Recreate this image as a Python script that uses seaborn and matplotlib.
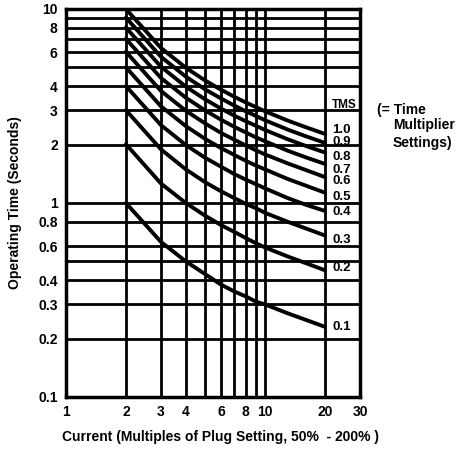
import numpy as np
import pandas as pd
import matplotlib
matplotlib.use("Agg")
import matplotlib.pyplot as plt
import seaborn as sns

# Courant en multiples du réglage de la prise
current = [2, 3, 4, 5, 6, 7, 8, 9, 10, 13, 16, 20]

# Temps de fonctionnement (s), un tableau par TMS
t_10 = [10.0, 6.30, 4.98, 4.28, 3.84, 3.53, 3.30, 3.12, 2.97, 2.66, 2.46, 2.27]
t_09 = [9.03, 5.67, 4.48, 3.85, 3.46, 3.18, 2.97, 2.81, 2.67, 2.39, 2.21, 2.04]
t_08 = [8.02, 5.04, 3.98, 3.42, 3.07, 2.82, 2.64, 2.50, 2.38, 2.13, 1.97, 1.82]
t_07 = [7.02, 4.41, 3.49, 3.00, 2.69, 2.47, 2.31, 2.18, 2.08, 1.86, 1.72, 1.59]
t_06 = [6.02, 3.78, 2.99, 2.57, 2.30, 2.12, 1.98, 1.87, 1.78, 1.60, 1.48, 1.36]
t_05 = [5.01, 3.15, 2.49, 2.14, 1.92, 1.77, 1.65, 1.56, 1.49, 1.33, 1.23, 1.13]
t_04 = [4.01, 2.52, 1.99, 1.71, 1.54, 1.41, 1.32, 1.25, 1.19, 1.06, 0.98, 0.91]
t_03 = [3.01, 1.89, 1.49, 1.28, 1.15, 1.06, 0.99, 0.94, 0.89, 0.80, 0.74, 0.68]
t_02 = [2.01, 1.26, 1.00, 0.86, 0.77, 0.71, 0.66, 0.62, 0.59, 0.53, 0.49, 0.45]
t_01 = [1.00, 0.63, 0.50, 0.43, 0.38, 0.35, 0.33, 0.31, 0.30, 0.27, 0.25, 0.23]

tms_labels = ["1.0", "0.9", "0.8", "0.7", "0.6", "0.5", "0.4", "0.3", "0.2", "0.1"]
series = [t_10, t_09, t_08, t_07, t_06, t_05, t_04, t_03, t_02, t_01]

# Graduations
x_ticks = [1, 2, 3, 4, 5, 6, 7, 8, 9, 10, 20, 30]
x_ticklabels = ["1", "2", "3", "4", "", "6", "", "8", "", "10", "20", "30"]
y_ticks = [0.1, 0.2, 0.3, 0.4, 0.5, 0.6, 0.8, 1, 2, 3, 4, 5, 6, 7, 8, 9, 10]
y_ticklabels = ["0.1", "0.2", "0.3", "0.4", "", "0.6", "0.8", "1", "2", "3", "4", "", "6", "", "8", "", "10"]

rows = []
for lab, vals in zip(tms_labels, series):
    for c, t in zip(current, vals):
        rows.append({"Current": c, "Time": t, "TMS": lab})
df = pd.DataFrame(rows)

sns.set_style("white")
plt.rcParams['font.family'] = ['Liberation Sans', 'DejaVu Sans']
plt.rcParams['font.weight'] = 'bold'
plt.rcParams['text.color'] = 'black'
plt.rcParams['axes.labelcolor'] = 'black'
plt.rcParams['xtick.color'] = 'black'
plt.rcParams['ytick.color'] = 'black'

fig = plt.figure(figsize=(4.59, 4.5), dpi=100)
ax = fig.add_axes([0.1438, 0.1178, 0.6405, 0.8622])

sns.lineplot(data=df, x="Current", y="Time", hue="TMS", palette=["black"] * 10,
             linewidth=2.8, legend=False, ax=ax)

ax.set_xscale("log")
ax.set_yscale("log")
ax.set_xlim(1, 30)
ax.set_ylim(0.1, 10)

ax.set_xticks(x_ticks)
ax.set_xticklabels(x_ticklabels)
ax.set_yticks(y_ticks)
ax.set_yticklabels(y_ticklabels)
ax.minorticks_off()
ax.tick_params(length=0, labelsize=10, pad=6, colors="black")
for t in ax.get_xticklabels() + ax.get_yticklabels():
    t.set_fontweight("bold")

ax.grid(True, color="black", linewidth=2.0)
ax.set_axisbelow(True)
for sp in ax.spines.values():
    sp.set_color("black")
    sp.set_linewidth(2.5)

ax.set_xlabel("Current (Multiples of Plug Setting, 50%  - 200% )", fontsize=10,
              fontweight="bold", color="black")
ax.xaxis.set_label_coords(0.527, -0.085)
ax.set_ylabel("Operating Time (Seconds)", fontsize=10, fontweight="bold", labelpad=12,
              color="black")

# Étiquettes TMS à droite des courbes
label_y = [0.688, 0.657, 0.619, 0.585, 0.557, 0.515, 0.477, 0.405, 0.332, 0.180]
for lab, yy in zip(tms_labels, label_y):
    ax.text(0.905, yy, lab, transform=ax.transAxes, fontsize=9.5, fontweight="bold",
            ha="left", va="center", clip_on=False, color="black")
ax.text(0.946, 0.753, "TMS", transform=ax.transAxes, fontsize=8.5, fontweight="bold",
        ha="center", va="center", clip_on=False, color="black")
ax.text(1.058, 0.740, "(= Time", transform=ax.transAxes, fontsize=10, fontweight="bold",
        ha="left", va="center", clip_on=False, color="black")
ax.text(1.112, 0.701, "Multiplier", transform=ax.transAxes, fontsize=10, fontweight="bold",
        ha="left", va="center", clip_on=False, color="black")
ax.text(1.112, 0.655, "Settings)", transform=ax.transAxes, fontsize=10, fontweight="bold",
        ha="left", va="center", clip_on=False, color="black")

fig.savefig("out.png", dpi=100)
